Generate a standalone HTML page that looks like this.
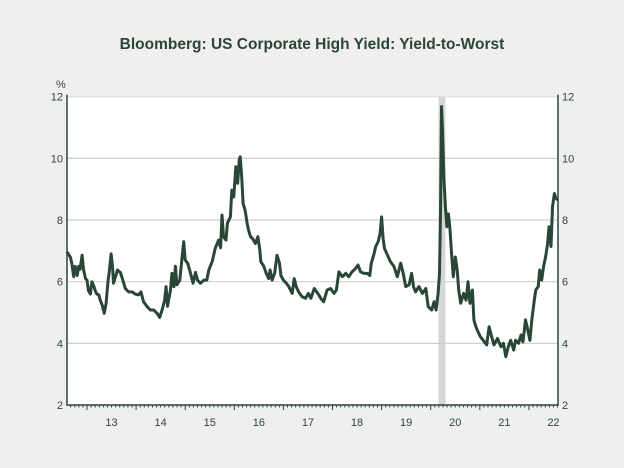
<!DOCTYPE html>
<html><head><meta charset="utf-8"><style>
body{margin:0;background:#efefef;}
svg{display:block;font-family:"Liberation Sans",sans-serif;}
</style></head><body>
<svg id="c" width="624" height="468">
<rect width="624" height="468" fill="#efefef"/>
<text x="312" y="49" text-anchor="middle" font-size="15.5" font-weight="bold" fill="#2b4536">Bloomberg: US Corporate High Yield: Yield-to-Worst</text>
<rect x="67" y="96.7" width="491" height="308.3" fill="#fff"/>
<g id="g"></g>
</svg>
<script>
const dates=[2012.59,2012.66,2012.69,2012.73,2012.76,2012.80,2012.83,2012.86,2012.90,2012.93,2012.97,2013.00,2013.03,2013.07,2013.10,2013.14,2013.17,2013.20,2013.24,2013.27,2013.31,2013.35,2013.39,2013.43,2013.45,2013.49,2013.52,2013.54,2013.58,2013.62,2013.68,2013.73,2013.78,2013.85,2013.92,2013.98,2014.05,2014.10,2014.15,2014.22,2014.29,2014.36,2014.43,2014.48,2014.53,2014.58,2014.61,2014.64,2014.70,2014.73,2014.77,2014.80,2014.83,2014.89,2014.93,2014.97,2015.00,2015.05,2015.10,2015.16,2015.21,2015.25,2015.31,2015.38,2015.44,2015.48,2015.55,2015.61,2015.68,2015.72,2015.75,2015.78,2015.83,2015.86,2015.92,2015.95,2015.99,2016.03,2016.07,2016.10,2016.12,2016.15,2016.18,2016.22,2016.26,2016.29,2016.33,2016.37,2016.43,2016.48,2016.52,2016.54,2016.60,2016.65,2016.70,2016.73,2016.77,2016.82,2016.87,2016.92,2016.95,2017.00,2017.06,2017.11,2017.18,2017.22,2017.26,2017.31,2017.38,2017.45,2017.51,2017.56,2017.63,2017.72,2017.76,2017.82,2017.89,2017.96,2018.03,2018.08,2018.13,2018.20,2018.27,2018.33,2018.40,2018.47,2018.52,2018.57,2018.64,2018.71,2018.76,2018.79,2018.84,2018.88,2018.93,2018.97,2019.00,2019.03,2019.06,2019.12,2019.18,2019.25,2019.32,2019.39,2019.44,2019.49,2019.56,2019.61,2019.65,2019.69,2019.76,2019.83,2019.90,2019.95,2020.02,2020.07,2020.11,2020.15,2020.18,2020.20,2020.22,2020.24,2020.27,2020.30,2020.33,2020.36,2020.39,2020.43,2020.46,2020.50,2020.54,2020.57,2020.61,2020.67,2020.72,2020.76,2020.80,2020.85,2020.88,2020.92,2020.95,2021.01,2021.07,2021.14,2021.19,2021.24,2021.29,2021.36,2021.43,2021.48,2021.53,2021.58,2021.63,2021.69,2021.73,2021.79,2021.84,2021.88,2021.93,2021.97,2022.02,2022.06,2022.11,2022.14,2022.19,2022.22,2022.26,2022.30,2022.34,2022.38,2022.41,2022.45,2022.48,2022.52,2022.55,2022.59];
const yields=[6.97,6.8,6.6,6.16,6.5,6.2,6.5,6.4,6.86,6.38,6.1,6.05,5.7,5.6,6.0,5.85,5.7,5.6,5.57,5.4,5.24,4.97,5.3,6.05,6.27,6.9,6.5,5.95,6.16,6.38,6.3,6.05,5.78,5.67,5.67,5.6,5.57,5.67,5.35,5.2,5.08,5.08,4.97,4.84,5.08,5.4,5.84,5.2,5.73,6.27,5.84,6.5,5.9,6.05,6.7,7.3,6.7,6.6,6.32,5.95,6.3,6.05,5.95,6.05,6.05,6.38,6.65,7.08,7.35,7.1,8.16,7.46,7.35,7.9,8.1,8.97,8.75,9.73,9.19,9.95,10.05,9.4,8.54,8.32,7.9,7.68,7.46,7.4,7.24,7.46,7.03,6.65,6.5,6.27,6.1,6.38,6.05,6.27,6.86,6.6,6.2,6.05,5.95,5.84,5.62,6.1,5.84,5.67,5.51,5.46,5.62,5.46,5.78,5.57,5.46,5.35,5.73,5.78,5.62,5.73,6.32,6.16,6.27,6.16,6.32,6.43,6.54,6.32,6.27,6.27,6.2,6.6,6.86,7.14,7.3,7.57,8.1,7.4,7.08,6.86,6.65,6.5,6.16,6.6,6.27,5.84,5.9,6.27,5.84,5.67,5.84,5.62,5.78,5.19,5.08,5.35,5.08,5.62,6.27,8.2,11.68,10.92,9.3,8.43,7.78,8.2,7.78,6.8,6.16,6.8,6.38,5.73,5.3,5.62,5.4,6.0,5.3,5.73,4.76,4.54,4.43,4.22,4.1,3.95,4.54,4.22,3.95,4.16,3.89,4.0,3.57,3.89,4.1,3.78,4.1,4.0,4.27,4.05,4.76,4.49,4.1,4.76,5.4,5.73,5.84,6.38,6.05,6.5,6.8,7.24,7.78,7.14,8.43,8.86,8.7,8.65];
const yTicks=[2,4,6,8,10,12];
const xLabels=["13","14","15","16","17","18","19","20","21","22"];
const recession=[2020.16,2020.30];

const NS="http://www.w3.org/2000/svg";
const g=document.getElementById('g');
const L=67,R=558,T=96.7,B=405;
const x=t=>87+(t-2013)*49.1;
const y=v=>T+(12-v)*(B-T)/10;
function mk(tag,attrs,parent){const e=document.createElementNS(NS,tag);for(const k in attrs)e.setAttribute(k,attrs[k]);(parent||g).appendChild(e);return e;}

const rb=mk('rect',{x:x(recession[0]),y:T,width:x(recession[1])-x(recession[0]),height:B-T,fill:'#d6d6d6'});



yTicks.forEach(v=>{
  if(v>2&&v<12){const gl=mk('line',{x1:L,x2:R,y1:y(v),y2:y(v),stroke:'#cfcfcf','stroke-width':1.2});
  
  }
  if(v==12){const gl=mk('line',{x1:L,x2:R,y1:y(v),y2:y(v),stroke:'#dcdcdc','stroke-width':1});
  
  }
  const a=mk('text',{x:63,y:y(v)+4,'text-anchor':'end','font-size':11,fill:'#2b4536'});a.textContent=v;
  
  
  const b=mk('text',{x:562,y:y(v)+4,'text-anchor':'start','font-size':11,fill:'#2b4536'});b.textContent=v;
  
  
});
const pc=mk('text',{x:56,y:88,'font-size':11,fill:'#2b4536'});pc.textContent='%';



const ax=mk('path',{d:`M${L},${T-2}V${B}H${R}V${T-2}`,fill:'none',stroke:'#2b4536','stroke-width':1.5});



for(let m=0;m<=130;m++){const t=2012+7/12+m/12;const xx=x(t);if(xx<L||xx>R)continue;
  const major=Math.abs(t-Math.round(t))<0.01;
  const tk=mk('line',{x1:xx,x2:xx,y1:B,y2:B+(major?5:2.5),stroke:'#2b4536','stroke-width':1});
  
  }
xLabels.forEach((s,i)=>{const t=2013.5+i;const tx=mk('text',{x:x(t),y:426,'text-anchor':'middle','font-size':11,fill:'#2b4536'});tx.textContent=s;
  
  });

const d=dates.map((t,i)=>(i?'L':'M')+x(t).toFixed(1)+','+y(yields[i]).toFixed(1)).join('');
const ln=mk('path',{d:d,fill:'none',stroke:'#2a4636','stroke-width':3,'stroke-linejoin':'round'});


</script>
</body></html>
